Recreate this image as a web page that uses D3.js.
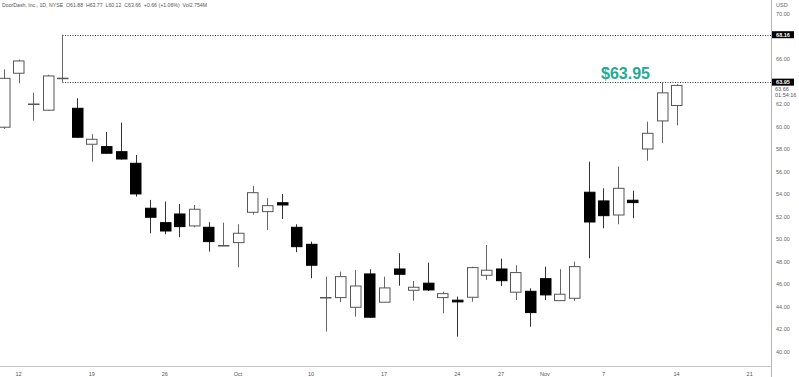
<!DOCTYPE html>
<html>
<head>
<meta charset="utf-8">
<script src="https://cdn.jsdelivr.net/npm/d3@7"></script>
<style>
  body { margin: 0; background: #fff; }
  svg { display: block; font-family: "Liberation Sans", Arial, sans-serif; }
</style>
</head>
<body>
<svg class="chart" width="799" height="377"></svg>
<script>
// trading days shown
var dates = ["2022-09-09",
    "2022-09-12", "2022-09-13", "2022-09-14", "2022-09-15", "2022-09-16",
    "2022-09-19", "2022-09-20", "2022-09-21", "2022-09-22", "2022-09-23",
    "2022-09-26", "2022-09-27", "2022-09-28", "2022-09-29", "2022-09-30",
    "2022-10-03", "2022-10-04", "2022-10-05", "2022-10-06", "2022-10-07",
    "2022-10-10", "2022-10-11", "2022-10-12", "2022-10-13", "2022-10-14",
    "2022-10-17", "2022-10-18", "2022-10-19", "2022-10-20", "2022-10-21",
    "2022-10-24", "2022-10-25", "2022-10-26", "2022-10-27", "2022-10-28",
    "2022-10-31", "2022-11-01", "2022-11-02", "2022-11-03", "2022-11-04",
    "2022-11-07", "2022-11-08", "2022-11-09", "2022-11-10", "2022-11-11",
    "2022-11-14"];
var futureDates = ["2022-11-15", "2022-11-16", "2022-11-17", "2022-11-18",
    "2022-11-21", "2022-11-22"];

var open = [59.95, 64.74, 61.99, 61.46, 64.28, 61.63, 58.44, 58.23, 57.78, 56.75,
    52.76, 51.48, 52.25, 51.19, 51.07, 49.43, 49.71, 52.40, 52.46, 53.25,
    51.07, 49.56, 44.81, 44.83, 43.97, 46.93, 44.42, 47.37, 45.48, 46.11,
    44.83, 44.60, 44.86, 46.81, 47.37, 45.31, 45.39, 46.51, 44.56, 44.77,
    54.18, 53.41, 52.16, 53.47, 58.02, 60.51, 61.88];
var high = [65.09, 65.95, 63.02, 64.60, 68.16, 62.52, 59.33, 59.53, 60.36, 57.49,
    53.50, 53.35, 53.14, 53.05, 51.52, 51.48, 51.34, 54.74, 53.65, 54.03,
    51.34, 49.80, 46.69, 47.13, 47.28, 47.35, 46.69, 48.77, 46.31, 47.93,
    45.36, 44.92, 47.58, 49.50, 48.29, 47.70, 45.66, 47.58, 47.35, 48.02,
    56.89, 54.53, 56.45, 54.32, 60.44, 63.95, 63.77];
var low = [59.80, 63.85, 60.53, 61.40, 63.95, 59.00, 56.89, 57.58, 57.07, 53.79,
    50.54, 50.45, 50.19, 51.07, 48.91, 49.40, 47.52, 52.19, 50.83, 51.81,
    48.86, 46.55, 41.81, 44.42, 43.14, 43.05, 44.40, 45.89, 44.56, 45.42,
    43.44, 41.37, 44.47, 46.40, 45.86, 44.62, 42.25, 44.62, 44.55, 44.53,
    48.32, 50.98, 51.34, 51.87, 56.98, 58.53, 60.12];
var close = [64.29, 65.83, 62.01, 64.50, 64.30, 59.06, 58.88, 57.64, 57.13, 54.03,
    51.96, 50.74, 51.13, 52.67, 49.80, 49.45, 50.54, 54.14, 52.99, 53.05,
    49.35, 47.70, 44.84, 46.69, 45.86, 43.09, 45.69, 46.90, 45.75, 45.51,
    45.18, 44.45, 47.49, 47.26, 46.33, 47.05, 43.50, 45.07, 45.13, 47.58,
    51.54, 52.10, 54.53, 53.26, 59.41, 63.00, 63.66];

var tickDates = ["2022-09-12", "2022-09-19", "2022-09-26", "2022-10-03", "2022-10-10",
    "2022-10-17", "2022-10-24", "2022-10-27", "2022-11-01", "2022-11-07",
    "2022-11-14", "2022-11-21"];
var tickLabels = ["12", "19", "26", "Oct", "10", "17", "24", "27", "Nov", "7", "14", "21"];
var priceTicks = [40, 42, 44, 46, 48, 50, 52, 54, 56, 58, 60, 62, 66, 70];

var header = "DoorDash, Inc., 1D, NYSE  O61.88  H63.77  L60.12  C63.66  +0.66 (+1.06%)  Vol2.754M";
var highLevel = 68.16, markLevel = 63.95, lastPrice = 63.66, countdown = "01:54:16";
var markFrom = "2022-09-15";

var svg = d3.select("svg.chart"),
    width = 799,
    height = 377,
    plotRight = 771,
    plotBottom = 366;

var allDates = dates.concat(futureDates);
var idx = (d) => allDates.indexOf(d);

var x = d3.scaleLinear().domain([-0.274, 52.46]).range([0, plotRight]);
var y = d3.scaleLinear().domain([38.76, 71.24]).range([plotBottom, 0]);
var bodyW = 10.5;

var candles = dates.map((d, i) => ({ date: d, o: open[i], h: high[i], l: low[i], c: close[i] }));

// frame lines
svg.append("line")
    .attr("x1", 0).attr("x2", plotRight)
    .attr("y1", plotBottom + 0.5).attr("y2", plotBottom + 0.5)
    .attr("stroke", "#c4c6cc");
svg.append("line")
    .attr("x1", plotRight + 0.5).attr("x2", plotRight + 0.5)
    .attr("y1", 0).attr("y2", height)
    .attr("stroke", "#b2b5be");

// dotted price levels
var markX = x(idx(markFrom));
svg.append("g")
    .selectAll("line")
    .data([highLevel, markLevel])
    .enter().append("line")
    .attr("x1", markX).attr("x2", plotRight)
    .attr("y1", (d) => Math.round(y(d)) + 0.5)
    .attr("y2", (d) => Math.round(y(d)) + 0.5)
    .attr("stroke", "#333")
    .attr("stroke-dasharray", "1,1.5");

// candles
var g = svg.append("g").attr("class", "candles");
g.selectAll("line")
    .data(candles)
    .enter().append("line")
    .attr("x1", (d, i) => Math.round(x(i)) + 0.5)
    .attr("x2", (d, i) => Math.round(x(i)) + 0.5)
    .attr("y1", (d) => y(d.h))
    .attr("y2", (d) => y(d.l))
    .attr("stroke", (d) => d.c < d.o ? "#333" : "#666");

g.selectAll("rect")
    .data(candles)
    .enter().append("rect")
    .attr("x", (d, i) => Math.round(x(i) - bodyW / 2) + 0.5)
    .attr("width", bodyW)
    .attr("y", (d) => y(Math.max(d.o, d.c)))
    .attr("height", (d) => Math.max(0.5, Math.abs(y(d.o) - y(d.c))))
    .attr("fill", (d) => d.c < d.o ? "#000" : "#fff")
    .attr("stroke", (d) => d.c < d.o ? "#000" : "#555")
    .attr("stroke-width", 1);

// date axis
svg.append("g")
    .selectAll("text")
    .data(tickDates)
    .enter().append("text")
    .attr("x", (d) => x(idx(d)))
    .attr("y", 376)
    .attr("text-anchor", "middle")
    .attr("font-size", 5.5)
    .attr("fill", "#555")
    .text((d, i) => tickLabels[i]);

// price axis
svg.append("g")
    .selectAll("text")
    .data(priceTicks)
    .enter().append("text")
    .attr("x", 776)
    .attr("y", (d) => y(d) + 2)
    .attr("font-size", 5.5)
    .attr("fill", "#666")
    .text((d) => d3.format(".2f")(d));

svg.append("text")
    .attr("x", 776).attr("y", 7)
    .attr("font-size", 5.5)
    .attr("fill", "#666")
    .text("USD");

// black level labels
var lab = svg.append("g")
    .selectAll("g")
    .data([highLevel, markLevel])
    .enter().append("g");
lab.append("rect")
    .attr("x", plotRight + 1).attr("width", 22)
    .attr("y", (d) => y(d) - 3.5).attr("height", 7)
    .attr("fill", "#000");
lab.append("text")
    .attr("x", plotRight + 12).attr("y", (d) => y(d) + 2)
    .attr("text-anchor", "middle")
    .attr("font-size", 5.5)
    .attr("font-weight", "bold")
    .attr("fill", "#fff")
    .text((d) => d3.format(".2f")(d));

svg.append("text")
    .attr("x", 775).attr("y", y(markLevel) + 8.5)
    .attr("font-size", 5.5)
    .attr("fill", "#555")
    .text(d3.format(".2f")(lastPrice));
svg.append("text")
    .attr("x", 775).attr("y", y(markLevel) + 14.5)
    .attr("font-size", 5.5)
    .attr("fill", "#555")
    .text(countdown);

// big annotation
svg.append("text")
    .attr("x", 601).attr("y", y(markLevel) - 3.5)
    .attr("font-size", 16)
    .attr("font-weight", "bold")
    .attr("fill", "#22ab94")
    .text("$" + d3.format(".2f")(markLevel));

// header
svg.append("text")
    .attr("x", 2).attr("y", 7)
    .attr("font-size", 5.2)
    .attr("fill", "#555")
    .attr("xml:space", "preserve")
    .text(header);
</script>
</body>
</html>
